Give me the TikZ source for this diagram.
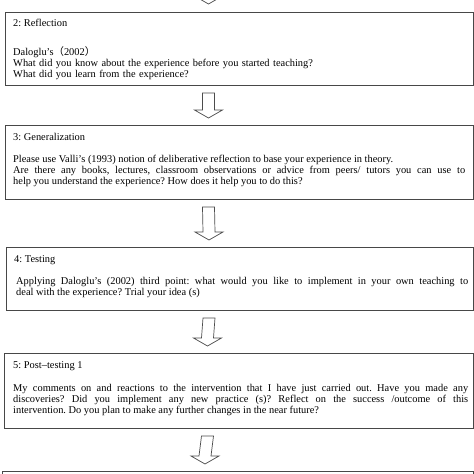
\documentclass[tikz,border=0pt]{standalone}
\usepackage{fontspec}
\setmainfont{Liberation Serif}
\newfontfamily\cjkfont{Noto Sans CJK SC}
\usetikzlibrary{calc}
\frenchspacing
\newcommand\flowarr[2]{%
  \draw[flowarrow] ($(#1.south west)+(197.5,7)$) -- ($(#1.south west)+(209.5,7)$)
    -- ($(#2.north west)+(209.5,-15)$) -- ($(#2.north west)+(217.5,-15)$)
    -- ($(#2.north west)+(203.5,-7)$) -- ($(#2.north west)+(189.5,-15)$)
    -- ($(#2.north west)+(197.5,-15)$) -- cycle;}
\begin{document}
\begin{tikzpicture}[x=1pt,y=-1pt,
  stagebox/.style={draw=black!72, line width=0.9pt, inner sep=0pt, anchor=north west},
  ttl/.style={anchor=base west, inner sep=0pt, font=\fontsize{10.4}{11.3}\selectfont, text=black},
  body/.style={anchor=north west, inner sep=0pt, text width=452pt, align=justify, font=\fontsize{10.4}{11.3}\selectfont, text=black},
  flowarrow/.style={draw=black!70, line width=0.7pt, fill=white, line join=miter}]
\useasboundingbox (0,0) rectangle (474,474);
\fill[white] (0,0) rectangle (474,474);

% boxes
\node[stagebox, minimum width=468pt, minimum height=73pt] (b2) at (5,12) {};
\node[stagebox, minimum width=468pt, minimum height=74pt] (b3) at (5,125) {};
\node[stagebox, minimum width=467pt, minimum height=63pt] (b4) at (5.5,247) {};
\node[stagebox, minimum width=469pt, minimum height=75pt] (b5) at (4,353) {};
\node[stagebox, minimum width=471pt, minimum height=40pt] (b6) at (1.5,471) {};

% texts
\node[ttl] (t2) at (13,26) {2: Reflection};
\node[body, align=left] (d2) at (13,46.1) {\strut Daloglu’s{\cjkfont（}2002{\cjkfont）}\\
What did you know about the experience before you started teaching?\\
What did you learn from the experience?};

\node[ttl] (t3) at (13,140) {3: Generalization};
\node[body] (d3) at (13,154.1) {\strut Please use Valli’s (1993) notion of deliberative reflection to base your experience in theory.\par
Are there any books, lectures, classroom observations or advice from peers/ tutors you can use to\linebreak
help you understand the experience? How does it help you to do this?};

\node[ttl] (t4) at (14,262) {4: Testing};
\node[body] (d4) at (16,276.1) {\strut Applying Daloglu’s (2002) third point: what would you like to implement in your own teaching to\linebreak
deal with the experience? Trial your idea (s)};

\node[ttl] (t5) at (13,368) {5: Post–testing 1};
\node[body, text width=455pt] (d5) at (13,383.1) {\strut My comments on and reactions to the intervention that I have just carried out. Have you made any\linebreak
discoveries? Did you implement any new practice (s)? Reflect on the success /outcome of this\linebreak
intervention. Do you plan to make any further changes in the near future?};

% arrows
\coordinate (top) at ($(b2.north west)+(203.5,-40)$);
\draw[flowarrow] ($(top)+(-6,0)$) -- ($(top)+(6,0)$) -- ($(b2.north west)+(209.5,-16)$)
  -- ($(b2.north west)+(217.5,-16)$) -- ($(b2.north west)+(203.5,-8)$)
  -- ($(b2.north west)+(189.5,-16)$) -- ($(b2.north west)+(197.5,-16)$) -- cycle;
\flowarr{b2}{b3}
\flowarr{b3}{b4}
\flowarr{b4}{b5}
\flowarr{b5}{b6}
\end{tikzpicture}
\end{document}
